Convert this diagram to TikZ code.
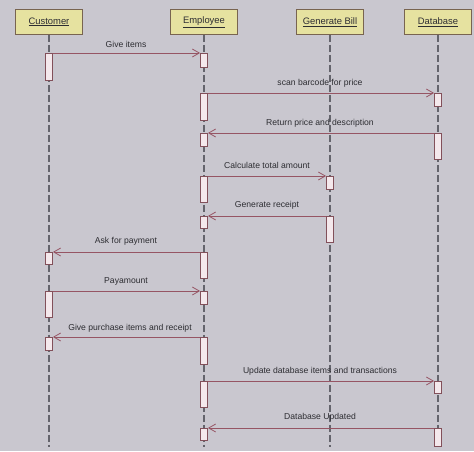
\documentclass[tikz,border=0pt]{standalone}
\usepackage{fontspec}
\setmainfont{Liberation Sans}
\usetikzlibrary{arrows.meta}
\definecolor{bg}{RGB}{201,199,207}
\definecolor{hdrfill}{RGB}{230,226,160}
\definecolor{hdrdraw}{RGB}{120,100,80}
\definecolor{actfill}{RGB}{244,232,236}
\definecolor{actdraw}{RGB}{130,80,90}
\definecolor{msg}{RGB}{150,85,100}
\definecolor{life}{RGB}{100,100,108}
\definecolor{txt}{RGB}{45,45,50}
\tikzset{
  x=1pt, y=-1pt,
  hdr/.style={draw=hdrdraw, fill=hdrfill, line width=0.9pt, minimum width=67pt, minimum height=25pt, anchor=north, inner sep=0pt, font=\fontsize{9.4}{11}\selectfont, text=txt},
  act/.style={draw=actdraw, fill=actfill, line width=0.8pt, minimum width=7pt, inner sep=0pt, anchor=north},
  lifeline/.style={draw=life, line width=1.1pt, dash pattern=on 7pt off 3pt},
  msgarrow/.style={draw=msg, line width=0.8pt, -{Straight Barb[length=7pt, width=8pt, line width=0.8pt]}},
  lbl/.style={font=\fontsize{8.6}{10}\selectfont, text=txt, inner sep=0pt}
}
\begin{document}
\begin{tikzpicture}
\fill[bg] (0,0) rectangle (474,451);
\useasboundingbox (0,0) rectangle (474,451);
% headers
\node[hdr] (cu) at (49,9) {\underline{Customer}};
\node[hdr] (em) at (204,9) {\underline{Employee}};
\node[hdr] (gb) at (330,9) {\underline{Generate Bill}};
\node[hdr] (db) at (438,9) {\underline{Database}};
\coordinate (cuE) at (49,447);
\coordinate (emE) at (204,447);
\coordinate (gbE) at (330,447);
\coordinate (dbE) at (438,447);
\draw[lifeline] (cu.south) -- (cuE);
\draw[lifeline] (em.south) -- (emE);
\draw[lifeline] (gb.south) -- (gbE);
\draw[lifeline] (db.south) -- (dbE);
% activations
\node[act, minimum height=27pt] (c1) at (49,53) {};
\node[act, minimum height=14pt] (e1) at (204,53) {};
\node[act, minimum height=27pt] (e2) at (204,93) {};
\node[act, minimum height=13pt] (d2) at (438,93) {};
\node[act, minimum height=26pt] (d3) at (438,133) {};
\node[act, minimum height=13pt] (e3) at (204,133) {};
\node[act, minimum height=26pt] (e4) at (204,176) {};
\node[act, minimum height=13pt] (g4) at (330,176) {};
\node[act, minimum height=26pt] (g5) at (330,216) {};
\node[act, minimum height=12pt] (e5) at (204,216) {};
\node[act, minimum height=26pt] (e6) at (204,252) {};
\node[act, minimum height=12pt] (c6) at (49,252) {};
\node[act, minimum height=26pt] (c7) at (49,291) {};
\node[act, minimum height=13pt] (e7) at (204,291) {};
\node[act, minimum height=27pt] (e8) at (204,337) {};
\node[act, minimum height=13pt] (c8) at (49,337) {};
\node[act, minimum height=26pt] (e9) at (204,381) {};
\node[act, minimum height=12pt] (d9) at (438,381) {};
\node[act, minimum height=18pt] (d10) at (438,428) {};
\node[act, minimum height=12pt] (e10) at (204,428) {};
% messages
\draw[msgarrow] (c1.north east) -- (e1.north west);
\draw[msgarrow] (e2.north east) -- (d2.north west);
\draw[msgarrow] (d3.north west) -- (e3.north east);
\draw[msgarrow] (e4.north east) -- (g4.north west);
\draw[msgarrow] (g5.north west) -- (e5.north east);
\draw[msgarrow] (e6.north west) -- (c6.north east);
\draw[msgarrow] (c7.north east) -- (e7.north west);
\draw[msgarrow] (e8.north west) -- (c8.north east);
\draw[msgarrow] (e9.north east) -- (d9.north west);
\draw[msgarrow] (d10.north west) -- (e10.north east);
% labels
\node[lbl] (l1) at (126,44) {Give items};
\node[lbl] (l2) at (320,83) {scan barcode for price};
\node[lbl] (l3) at (320,123) {Return price and description};
\node[lbl] (l4) at (267,165) {Calculate total amount};
\node[lbl] (l5) at (267,205) {Generate receipt};
\node[lbl] (l6) at (126,241) {Ask for payment};
\node[lbl] (l7) at (126,281) {Payamount};
\node[lbl] (l8) at (130,328) {Give purchase items and receipt};
\node[lbl] (l9) at (320,371) {Update database items and transactions};
\node[lbl] (l10) at (320,417) {Database Updated};
\end{tikzpicture}
\end{document}
